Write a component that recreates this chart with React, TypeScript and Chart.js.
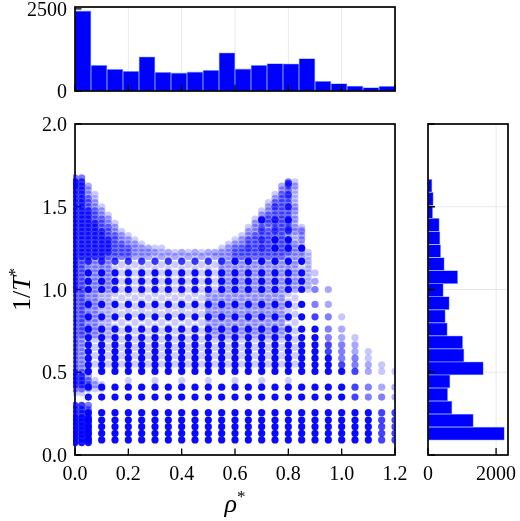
import React, { useEffect, useRef } from "react";
import { Chart, registerables } from "chart.js";

Chart.register(...registerables);

const W = 520;
const H = 521;
const SERIF = "'Liberation Serif', 'DejaVu Serif', serif";

// ---------------- data ----------------
const rhoTicks = [0, 0.2, 0.4, 0.6, 0.8, 1.0, 1.2];
const invTTicks = [0, 0.5, 1.0, 1.5, 2.0];
const rhoCountTicks = [0, 2500];
const invTCountTicks = [0, 2000];

// marginal histogram of rho* (20 bins over 0 - 1.2)
const rhoBinStart = 0;
const rhoBinWidth = 0.06;
const rhoCounts = [2440, 785, 663, 602, 1040, 571, 551, 581, 632, 1163, 673, 785, 836, 826, 989, 296, 224, 153, 102, 143];

// marginal histogram of 1/T* (20 bins, bottom to top)
const invTBinStart = 0.09;
const invTBinWidth = 0.0788;
const invTCounts = [2245, 1333, 706, 578, 647, 1627, 1059, 1020, 569, 510, 627, 451, 873, 480, 373, 353, 333, 137, 157, 118];

// simulated state points: densities (columns) x inverse temperatures (rows)
const stateRho = [0.05, 0.1, 0.15, 0.2, 0.25, 0.3, 0.35, 0.4, 0.45, 0.5, 0.55, 0.6, 0.65, 0.7, 0.75, 0.8, 0.85, 0.9, 0.95, 1.0, 1.05, 1.1, 1.15, 1.2];
const stateInvT = [1.64, 1.57, 1.5, 1.42, 1.36, 1.3, 1.25, 1.17, 1.1, 1.05, 1.0, 0.91, 0.835, 0.76, 0.71, 0.665, 0.625, 0.585, 0.545, 0.505, 0.41, 0.35, 0.256, 0.211, 0.171, 0.131, 0.091];
// sample density per state point (run-length coded: digits repeat the next symbol)
const stateShade = [
  "15 O",
  "15 o",
  "14 :O",
  "13 #O#",
  "13 :oO.",
  "12 :o2#.",
  "11 .:o3#",
  "11O6#",
  "17#.",
  "17#:",
  "17#o:",
  "17#o:",
  "17#Oo.",
  "18#o:",
  "18#o:.",
  "18#Oo:",
  "18#Oo:.",
  "19#oo.",
  "19#Oo:.",
  "20#O:2.",
  "20#Oo2:",
  "20#O2o:",
  "22#2O",
  "22#2O",
  "22#2O",
  "22#2O",
  "22#2O",
];

// fluctuating samples (two-phase cloud)
const cloudRho = [0, 0.025, 0.05, 0.075, 0.1, 0.125, 0.15, 0.175, 0.2, 0.225, 0.25, 0.275, 0.3, 0.325, 0.35, 0.375, 0.4, 0.425, 0.45, 0.475, 0.5, 0.525, 0.55, 0.575, 0.6, 0.625, 0.65, 0.675, 0.7, 0.725, 0.75, 0.775, 0.8, 0.825, 0.85, 0.875, 0.9];
const cloudInvT = [1.675, 1.65, 1.625, 1.6, 1.575, 1.55, 1.525, 1.5, 1.475, 1.45, 1.425, 1.4, 1.375, 1.35, 1.325, 1.3, 1.275, 1.25, 1.225, 1.2, 1.175, 1.15, 1.125, 1.1, 1.075, 1.05, 1.025, 1.0, 0.975, 0.95, 0.925, 0.9, 0.875, 0.85, 0.825, 0.8, 0.775, 0.75, 0.725, 0.7, 0.675, 0.65, 0.625, 0.6, 0.575, 0.55, 0.525, 0.5, 0.475, 0.45, 0.425, 0.4, 0.375, 0.35, 0.325, 0.3, 0.275, 0.25, 0.225, 0.2, 0.175, 0.15, 0.125, 0.1, 0.075];
const cloudShade = [
  "2o",
  "#O30 o.",
  "#O:28 :o:",
  "2O:28 :o.",
  "2O:.26 .2o.",
  "2Oo.26 :2o.",
  "2Oo:25 .3o.",
  "2Oo:.24 :3o:",
  "3Oo:23 .:3o:",
  "3Oo:.22 :4o.",
  "3O2o:21 .5o:",
  "4Oo:.20 2:4o.",
  "4O2o:19 .:o:3o:.",
  "5Oo:.18 2:5o2:",
  "5O2o:.16 .:5o:.:",
  "6Oo2:.14 .2:6o2.",
  "6O2o2:.12 .2:7o:.",
  "6O3o3:2.8 .2:8o2:",
  "6O3o4:.:.:.:.:3:9o2:.",
  "5O4o3:.:.:.:.:.:2:8o3:.",
  "Oo4:. . . . . . . . :.:.:.:.:.:...",
  "Oo4: . . . . . . . ..:.:.:.:.:.: .",
  "Oo4:. . . . . . . . :.:.:.:.:.:...",
  "Oo4: . . . . . . . ..:.:.:.:.:.: .",
  "Oo4:. . . . . . . . :.:.:.:.:.:...",
  "Oo4: . . . . . . . ..:.:.:.:.:.: .",
  "Oo4:. . . . . . . . :.:.:.:.:.:...",
  "Oo4: . . . . . . . ..:.:.:.:.:.: .",
  "oo2:2.. . . . . . . :.:.:.:.:.:..",
  "oo2:2. . . . . . . ..:.:.:.:.:.: .",
  "oo2:2.. . . . . . . :.:.:.:.:.:..",
  "oo2:2. . . . . . . ..:.:.:.:.:.: .",
  "oo2:2.. . . . . . . :.:.:.:.:.:..",
  "oo2:2. . . . . . . ..:.:.:.:.:.: .",
  "oo2:2.. . . . . . . :.:.:.:.:.:..",
  "oo2:2. . . . . . . ..:.:.:.:.:.: .",
  "oo2:2.. . . . . . . :.:.:.:.:.:..",
  "oo2:2. . . . . . . ..:.:.:.:.:.: .",
  "oo2:2.. . . . . . . :.:.:.:.:.:..",
  "o: . . . . . . . . . . . . . . . .",
  "o:. . . . . . . . . . . . . . . .",
  "o: . . . . . . . . . . . . . . . .",
  "o:. . . . . . . . . . . . . . . .",
  "o: . . . . . . . . . . . . . . . .",
  "o:. . . . . . . . . . . . . . . .",
  "o: . . . . . . . . . . . . . . . .",
  "o:. . . . . . . . . . . . . . . .",
  "Oo:",
  "2O:",
  "2Oo.4 .3 .3 .3 .3 .3 .3 .",
  "2Oo:.",
  "2o:2.",
  "2.",
  "",
  "",
  "2Oo",
  "2Oo",
  "2Oo",
  "3#",
  "3#",
  "3#",
  "3#",
  "3#",
  "3#",
  "3#",
];

// ---------------- styles ----------------
const stateAlpha: Record<string, number> = { "#": 0.96, O: 0.74, o: 0.5, ":": 0.34, ".": 0.22 };
const cloudAlpha: Record<string, number> = { "#": 0.92, O: 0.78, o: 0.52, ":": 0.33, ".": 0.2 };

function decode(s: string): string {
  let out = "";
  let i = 0;
  while (i < s.length) {
    let n = 0;
    let has = false;
    while (i < s.length && s[i] >= "0" && s[i] <= "9") {
      n = n * 10 + (s.charCodeAt(i) - 48);
      i++;
      has = true;
    }
    const c = s[i++];
    if (c === undefined) break;
    out += c.repeat(has ? n : 1);
  }
  return out;
}

function shadeDatasets(rows: string[], xs: number[], ys: number[], alphaOf: Record<string, number>) {
  const groups: Record<string, { x: number; y: number }[]> = {};
  rows.forEach((r, i) => {
    const s = decode(r);
    for (let j = 0; j < s.length && j < xs.length; j++) {
      const c = s[j];
      if (!(c in alphaOf)) continue;
      (groups[c] = groups[c] || []).push({ x: xs[j], y: ys[i] });
    }
  });
  return Object.keys(groups).map((c) => ({
    data: groups[c],
    backgroundColor: `rgba(0,0,255,${alphaOf[c]})`,
    borderWidth: 0,
    pointRadius: 3.6,
    pointHoverRadius: 3.6,
    clip: { left: 2, top: 0, right: 0, bottom: 0 },
  }));
}

function drawFrame(ctx: CanvasRenderingContext2D, a: any) {
  ctx.save();
  ctx.strokeStyle = "#000";
  ctx.lineWidth = 1.7;
  ctx.strokeRect(a.left, a.top, a.right - a.left, a.bottom - a.top);
  ctx.restore();
}

function drawTicksIn(ctx: CanvasRenderingContext2D, a: any, xs: any, ys: any, xt: number[], yt: number[], len: number) {
  ctx.save();
  ctx.strokeStyle = "#000";
  ctx.lineWidth = 1.3;
  ctx.beginPath();
  xt.forEach((v) => {
    const p = xs.getPixelForValue(v);
    ctx.moveTo(p, a.bottom);
    ctx.lineTo(p, a.bottom - len);
  });
  yt.forEach((v) => {
    const p = ys.getPixelForValue(v);
    ctx.moveTo(a.left, p);
    ctx.lineTo(a.left + len, p);
  });
  ctx.stroke();
  ctx.restore();
}

function drawGrid(ctx: CanvasRenderingContext2D, a: any, xs: any, ys: any, xt: number[], yt: number[]) {
  ctx.save();
  ctx.strokeStyle = "rgba(0,0,0,0.09)";
  ctx.lineWidth = 1;
  ctx.beginPath();
  xt.forEach((v) => {
    const p = xs.getPixelForValue(v);
    ctx.moveTo(p, a.top);
    ctx.lineTo(p, a.bottom);
  });
  yt.forEach((v) => {
    const p = ys.getPixelForValue(v);
    ctx.moveTo(a.left, p);
    ctx.lineTo(a.right, p);
  });
  ctx.stroke();
  ctx.restore();
}

type Part = { t: string; font: string; dy: number };
function drawParts(ctx: CanvasRenderingContext2D, parts: Part[], cx: number, by: number) {
  let w = 0;
  parts.forEach((p) => {
    ctx.font = p.font;
    w += ctx.measureText(p.t).width;
  });
  let x = cx - w / 2;
  ctx.textAlign = "left";
  ctx.textBaseline = "alphabetic";
  parts.forEach((p) => {
    ctx.font = p.font;
    ctx.fillText(p.t, x, by + p.dy);
    x += ctx.measureText(p.t).width;
  });
}

const tickFont = `20px ${SERIF}`;

const mainDecor = {
  id: "mainDecor",
  beforeDatasetsDraw(chart: any) {
    const { ctx, chartArea: a, scales } = chart;
    drawFrame(ctx, a);
    drawTicksIn(ctx, a, scales.x, scales.y, rhoTicks, invTTicks, 6.5);
  },
  afterDraw(chart: any) {
    const { ctx, chartArea: a, scales } = chart;
    ctx.save();
    ctx.fillStyle = "#000";
    ctx.font = tickFont;
    ctx.textBaseline = "alphabetic";
    ctx.textAlign = "center";
    rhoTicks.forEach((v) => ctx.fillText(v.toFixed(1), scales.x.getPixelForValue(v), a.bottom + 25));
    ctx.textAlign = "right";
    invTTicks.forEach((v) => ctx.fillText(v.toFixed(1), a.left - 8, scales.y.getPixelForValue(v) + 7));
    drawParts(
      ctx,
      [
        { t: "ρ", font: `italic 26px ${SERIF}`, dy: 0 },
        { t: "*", font: `17px ${SERIF}`, dy: -10 },
      ],
      (a.left + a.right) / 2,
      a.bottom + 57
    );
    ctx.translate(a.left - 45, (a.top + a.bottom) / 2);
    ctx.rotate(-Math.PI / 2);
    drawParts(
      ctx,
      [
        { t: "1/", font: `26px ${SERIF}`, dy: 0 },
        { t: "T", font: `italic 26px ${SERIF}`, dy: 0 },
        { t: "*", font: `17px ${SERIF}`, dy: -10 },
      ],
      0,
      0
    );
    ctx.restore();
  },
};

const topDecor = {
  id: "topDecor",
  beforeDatasetsDraw(chart: any) {
    const { ctx, chartArea: a, scales } = chart;
    drawGrid(ctx, a, scales.x, scales.y, rhoTicks.slice(1, -1), []);
  },
  afterDraw(chart: any) {
    const { ctx, chartArea: a, scales } = chart;
    drawFrame(ctx, a);
    drawTicksIn(ctx, a, scales.x, scales.y, rhoTicks, rhoCountTicks, 6.5);
    ctx.save();
    ctx.fillStyle = "#000";
    ctx.font = tickFont;
    ctx.textBaseline = "alphabetic";
    ctx.textAlign = "right";
    rhoCountTicks.forEach((v) => ctx.fillText(String(v), a.left - 8, scales.y.getPixelForValue(v) + 7));
    ctx.restore();
  },
};

const rightDecor = {
  id: "rightDecor",
  beforeDatasetsDraw(chart: any) {
    const { ctx, chartArea: a, scales } = chart;
    drawGrid(ctx, a, scales.x, scales.y, invTCountTicks.slice(1), invTTicks.slice(1, -1));
  },
  afterDraw(chart: any) {
    const { ctx, chartArea: a, scales } = chart;
    drawFrame(ctx, a);
    drawTicksIn(ctx, a, scales.x, scales.y, invTCountTicks, invTTicks, 7);
    ctx.save();
    ctx.fillStyle = "#000";
    ctx.font = tickFont;
    ctx.textBaseline = "alphabetic";
    ctx.textAlign = "center";
    invTCountTicks.forEach((v) => ctx.fillText(String(v), scales.x.getPixelForValue(v), a.bottom + 25));
    ctx.restore();
  },
};

const common = {
  animation: false as const,
  responsive: false,
  events: [] as any[],
  plugins: { legend: { display: false }, tooltip: { enabled: false } },
};

const barStyle = {
  backgroundColor: "#0000ff",
  borderColor: "rgba(140,170,255,1)",
  borderWidth: 0.8,
  borderSkipped: false,
  barPercentage: 1,
  categoryPercentage: 1,
};

export default function App() {
  const mainRef = useRef<HTMLCanvasElement>(null);
  const topRef = useRef<HTMLCanvasElement>(null);
  const rightRef = useRef<HTMLCanvasElement>(null);

  useEffect(() => {
    const charts: Chart[] = [];

    charts.push(
      new Chart(topRef.current as HTMLCanvasElement, {
        type: "bar",
        data: {
          datasets: [
            {
              ...barStyle,
              data: rhoCounts.map((c, i) => ({ x: rhoBinStart + rhoBinWidth * (i + 0.5), y: c })),
            } as any,
          ],
        },
        options: {
          ...common,
          layout: { padding: { left: 75, top: 7, right: 125, bottom: 430 } },
          scales: {
            x: { type: "linear", min: 0, max: 1.2, offset: false, display: false },
            y: { type: "linear", min: 0, max: 2560, display: false },
          },
        } as any,
        plugins: [topDecor],
      })
    );

    charts.push(
      new Chart(rightRef.current as HTMLCanvasElement, {
        type: "bar",
        data: {
          datasets: [
            {
              ...barStyle,
              data: invTCounts.map((c, i) => ({ x: c, y: invTBinStart + invTBinWidth * (i + 0.5) })),
            } as any,
          ],
        },
        options: {
          ...common,
          indexAxis: "y",
          layout: { padding: { left: 428, top: 124, right: 12, bottom: 66 } },
          scales: {
            x: { type: "linear", min: 0, max: 2350, display: false },
            y: { type: "linear", min: 0, max: 2, offset: false, display: false },
          },
        } as any,
        plugins: [rightDecor],
      })
    );

    charts.push(
      new Chart(mainRef.current as HTMLCanvasElement, {
        type: "scatter",
        data: {
          datasets: [
            ...shadeDatasets(cloudShade, cloudRho, cloudInvT, cloudAlpha),
            ...shadeDatasets(stateShade, stateRho, stateInvT, stateAlpha),
          ] as any,
        },
        options: {
          ...common,
          layout: { padding: { left: 75, top: 124, right: 125, bottom: 66 } },
          scales: {
            x: { type: "linear", min: 0, max: 1.2, display: false },
            y: { type: "linear", min: 0, max: 2, display: false },
          },
        } as any,
        plugins: [mainDecor],
      })
    );

    return () => charts.forEach((c) => c.destroy());
  }, []);

  const cs: React.CSSProperties = { position: "absolute", left: 0, top: 0, width: W, height: H };
  return (
    <div style={{ position: "absolute", left: 0, top: 0, width: W, height: H, background: "#fff" }}>
      <canvas ref={topRef} width={W} height={H} style={cs} />
      <canvas ref={rightRef} width={W} height={H} style={cs} />
      <canvas ref={mainRef} width={W} height={H} style={cs} />
    </div>
  );
}
